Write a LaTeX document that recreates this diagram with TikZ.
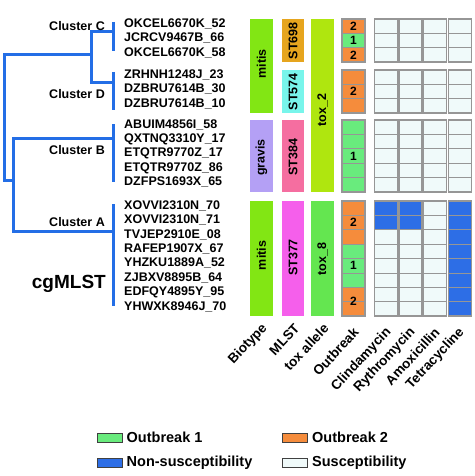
\documentclass[tikz,border=0pt]{standalone}
\usepackage{fontspec}
\setmainfont{Liberation Sans}
\usepackage{tikz}
\usetikzlibrary{positioning}
\definecolor{treeblue}{RGB}{35,110,230}
\definecolor{obone}{RGB}{105,235,125}
\definecolor{obtwo}{RGB}{245,140,60}
\definecolor{nsblue}{RGB}{45,110,230}
\definecolor{susc}{RGB}{240,250,250}
\definecolor{cellgray}{RGB}{150,150,150}
\definecolor{mitisgreen}{RGB}{130,230,20}
\definecolor{gravispurple}{RGB}{180,160,245}
\definecolor{stgold}{RGB}{230,165,30}
\definecolor{stcyan}{RGB}{120,245,235}
\definecolor{stpink}{RGB}{245,110,160}
\definecolor{stmagenta}{RGB}{245,95,235}
\definecolor{toxlime}{RGB}{175,230,15}
\definecolor{toxgreen}{RGB}{100,230,80}
\newcommand{\cellcol}[4]{%
  \foreach \fc [count=\i from 0] in {#4} {\draw[cell, fill=\fc] (#1,{#2+\i*14.4}) rectangle ++(23,14.4);}
  \draw[colframe] (#1,#2) rectangle ++(23,{#3*14.4});}

\begin{document}
\begin{tikzpicture}[x=1pt, y=-1pt,
  sample/.style={anchor=west, font=\fontsize{12.5}{14}\selectfont\bfseries, inner sep=0pt},
  clustlbl/.style={anchor=east, font=\fontsize{12.5}{14}\selectfont\bfseries, inner sep=0pt},
  barlbl/.style={rotate=90, font=\fontsize{12.5}{14}\selectfont\bfseries, inner sep=0pt},
  collbl/.style={rotate=47, anchor=east, font=\fontsize{13.5}{15}\selectfont\bfseries, inner sep=0pt},
  digit/.style={font=\fontsize{12}{14}\selectfont\bfseries, inner sep=0pt},
  cell/.style={draw=cellgray, line width=0.8pt},
  colframe/.style={draw=cellgray, line width=1.6pt},
  branch/.style={draw=treeblue, line width=3pt},
  legbox/.style={draw=black!75, line width=1pt, minimum width=25, minimum height=9, inner sep=0pt},
  leglbl/.style={font=\fontsize{14.5}{16}\selectfont\bfseries, inner sep=0pt}]

\useasboundingbox (0,0) rectangle (474,476);

% ==========================================
% DENDROGRAM (cgMLST)
% ==========================================
\coordinate (rootT) at (4,55);
\coordinate (cd) at (91,55);
\coordinate (ab) at (13,180);
\coordinate (cC) at (113,32);
\coordinate (cD) at (113,83);
\coordinate (cB) at (113,138);
\coordinate (cA) at (113,231);

\draw[branch] (cC) -| (cd) |- (cD);
\draw[branch] (cd) -- (rootT) |- (ab);
\draw[branch] (cB) -| (ab) |- (cA);

% leaf bars
\draw[branch] (113,22) -- (113,51);
\draw[branch] (113,72) -- (113,110);
\draw[branch] (113,124) -- (113,182);
\draw[branch] (113,204) -- (113,306);

% cluster names
\node[clustlbl] (clC) at (105,26) {Cluster C};
\node[clustlbl] (clD) at (105,94) {Cluster D};
\node[clustlbl] (clB) at (105,150) {Cluster B};
\node[clustlbl] (clA) at (105,222) {Cluster A};
\node[anchor=east, font=\fontsize{19}{22}\selectfont\bfseries, inner sep=0pt] (cgm) at (106,284) {cgMLST};

% isolates
\node[sample] (s1) at (124,23.7) {OKCEL6670K\_52};
\node[sample] (s2) at (124,38.1) {JCRCV9467B\_66};
\node[sample] (s3) at (124,52.5) {OKCEL6670K\_58};
\node[sample] (s4) at (124,74.7) {ZRHNH1248J\_23};
\node[sample] (s5) at (124,89.1) {DZBRU7614B\_30};
\node[sample] (s6) at (124,103.5) {DZBRU7614B\_10};
\node[sample] (s7) at (124,124.7) {ABUIM4856I\_58};
\node[sample] (s8) at (124,139.1) {QXTNQ3310Y\_17};
\node[sample] (s9) at (124,153.5) {ETQTR9770Z\_17};
\node[sample] (s10) at (124,167.9) {ETQTR9770Z\_86};
\node[sample] (s11) at (124,182.3) {DZFPS1693X\_65};
\node[sample] (s12) at (124,205.7) {XOVVI2310N\_70};
\node[sample] (s13) at (124,220.1) {XOVVI2310N\_71};
\node[sample] (s14) at (124,234.5) {TVJEP2910E\_08};
\node[sample] (s15) at (124,248.9) {RAFEP1907X\_67};
\node[sample] (s16) at (124,263.3) {YHZKU1889A\_52};
\node[sample] (s17) at (124,277.7) {ZJBXV8895B\_64};
\node[sample] (s18) at (124,292.1) {EDFQY4895Y\_95};
\node[sample] (s19) at (124,306.5) {YHWXK8946J\_70};

% ==========================================
% ANNOTATION BARS
% ==========================================
% Biotype
\fill[mitisgreen] (250,19) rectangle (273,113.2);
\node[barlbl] (bioCD) at (261.5,64) {mitis};
\fill[gravispurple] (250,120) rectangle (273,192);
\node[barlbl] (bioB) at (261.5,157.5) {gravis};
\fill[mitisgreen] (250,201) rectangle (273,316.2);
\node[barlbl] (bioA) at (261.5,255.5) {mitis};

% MLST
\fill[stgold] (282,19) rectangle (304,62.2);
\node[barlbl] (stC) at (293,40.6) {ST698};
\fill[stcyan] (282,70) rectangle (304,113.2);
\node[barlbl] (stD) at (293,91.6) {ST574};
\fill[stpink] (282,120) rectangle (304,192);
\node[barlbl] (stB) at (293,157) {ST384};
\fill[stmagenta] (282,201) rectangle (304,316.2);
\node[barlbl] (stA) at (293,257.5) {ST377};

% tox allele
\fill[toxlime] (311,19) rectangle (334,192);
\node[barlbl] (toxCDB) at (322.5,110) {tox\_2};
\fill[toxgreen] (311,201) rectangle (334,316.2);
\node[barlbl] (toxA) at (322.5,259) {tox\_8};

% ==========================================
% OUTBREAK AND SUSCEPTIBILITY CELLS
% ==========================================
% Cluster C
\cellcol{342}{19}{3}{obtwo,obone,obtwo}
\foreach \x in {374.5,399,423.5,448.5} {\cellcol{\x}{19}{3}{susc,susc,susc}}
% Cluster D
\cellcol{342}{70}{3}{obtwo,obtwo,obtwo}
\foreach \x in {374.5,399,423.5,448.5} {\cellcol{\x}{70}{3}{susc,susc,susc}}
% Cluster B
\cellcol{342}{120}{5}{obone,obone,obone,obone,obone}
\foreach \x in {374.5,399,423.5,448.5} {\cellcol{\x}{120}{5}{susc,susc,susc,susc,susc}}
% Cluster A
\cellcol{342}{201}{8}{obtwo,obtwo,obtwo,obone,obone,obone,obtwo,obtwo}
\cellcol{374.5}{201}{8}{nsblue,nsblue,susc,susc,susc,susc,susc,susc}
\cellcol{399}{201}{8}{nsblue,nsblue,susc,susc,susc,susc,susc,susc}
\cellcol{423.5}{201}{8}{susc,susc,susc,susc,susc,susc,susc,susc}
\cellcol{448.5}{201}{8}{nsblue,nsblue,nsblue,nsblue,nsblue,nsblue,nsblue,nsblue}

% outbreak numbers
\node[digit] (oC1) at (353.5,26.2) {2};
\node[digit] (oC2) at (353.5,40.6) {1};
\node[digit] (oC3) at (353.5,55) {2};
\node[digit] (oD) at (353.5,91.6) {2};
\node[digit] (oB) at (353.5,156) {1};
\node[digit] (oA1) at (353.5,222.6) {2};
\node[digit] (oA2) at (353.5,265.8) {1};
\node[digit] (oA3) at (353.5,301.8) {2};

% ==========================================
% COLUMN HEADERS
% ==========================================
\node[collbl] (hBio) at (265,326) {Biotype};
\node[collbl] (hMlst) at (297,326) {MLST};
\node[collbl] (hTox) at (326,326) {tox allele};
\node[collbl] (hOut) at (356,330) {Outbreak};
\node[collbl] (hCli) at (389,330) {Clindamycin};
\node[collbl] (hRyt) at (413,330) {Rythromycin};
\node[collbl] (hAmo) at (437,330) {Amoxicillin};
\node[collbl] (hTet) at (462,330) {Tetracycline};

% ==========================================
% LEGEND
% ==========================================
\node[legbox, fill=obone] (kOne) at (109.5,437.5) {};
\node[leglbl, right=4pt of kOne] (lOne) {Outbreak 1};
\node[legbox, fill=obtwo] (kTwo) at (295,437.5) {};
\node[leglbl, right=4pt of kTwo] (lTwo) {Outbreak 2};
\node[legbox, fill=nsblue] (kNs) at (109.5,462.5) {};
\node[leglbl, right=4pt of kNs] (lNs) {Non-susceptibility};
\node[legbox, fill=susc] (kSu) at (295,462.5) {};
\node[leglbl, right=4pt of kSu] (lSu) {Susceptibility};

\end{tikzpicture}
\end{document}
